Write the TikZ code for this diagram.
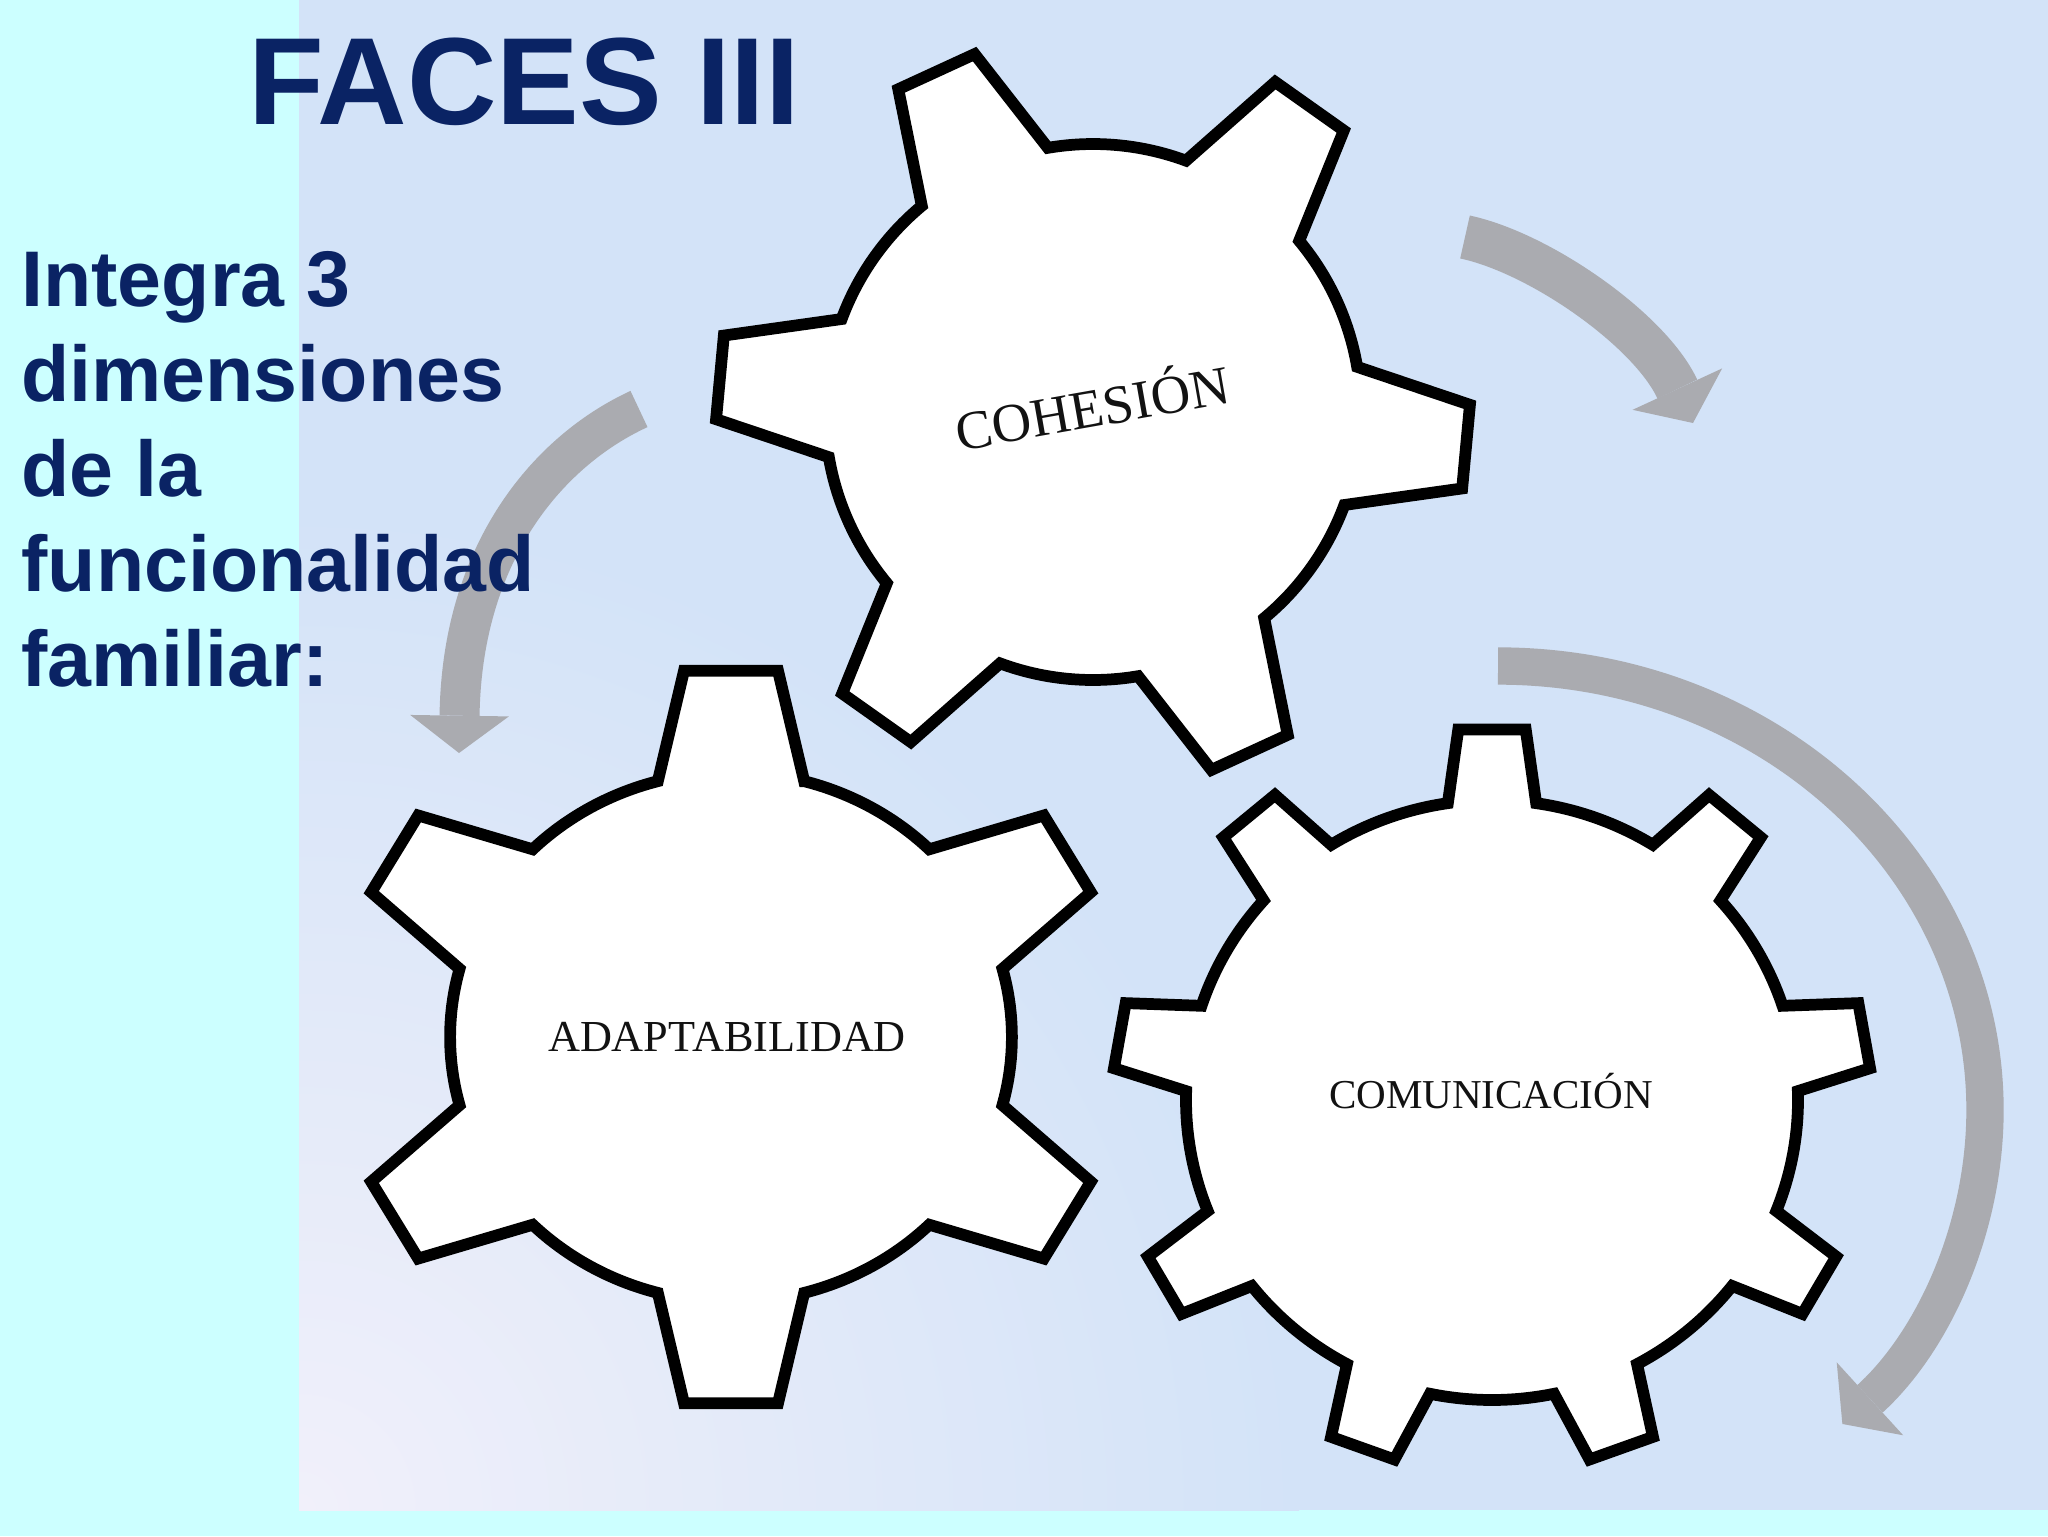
\documentclass[tikz,border=0pt]{standalone}
\usepackage{fontspec}
\setmainfont{Liberation Serif}
\newfontfamily\slidefont{Liberation Sans}
\usetikzlibrary{arrows.meta}

\definecolor{bgcyan}{RGB}{204,255,255}
\definecolor{panelblue}{RGB}{211,227,248}
\definecolor{panellight}{RGB}{241,240,250}
\definecolor{titleblue}{RGB}{10,35,100}
\definecolor{arrowgray}{RGB}{170,171,176}
\definecolor{labelgray}{RGB}{18,18,18}

\tikzset{
  gear/.style={draw=black, fill=white, line width=4.4pt},
  flow/.style={draw=arrowgray, line width=#1, -{Triangle[width=37pt,length=14pt,line width=0pt]}},
  flow/.default=16pt,
  gearlabel/.style={text=labelgray, inner sep=0pt, anchor=base},
  slidetext/.style={text=titleblue, inner sep=0pt},
}

% #1 centre, #2 xscale, #3 teeth, #4 root radius, #5 tip radius,
% #6 root half angle, #7 tip half angle, #8 first tooth angle
\newcommand{\drawgear}[8]{%
  \begin{scope}[shift={#1},xscale=#2,yscale=-1]
    \draw[gear] ({#8-#6}:#4) \foreach \k in {1,...,#3}{
      -- ({#8+(\k-1)*360/#3-#7}:#5) -- ({#8+(\k-1)*360/#3+#7}:#5)
      -- ({#8+(\k-1)*360/#3+#6}:#4)
      arc[start angle={#8+(\k-1)*360/#3+#6}, end angle={#8+\k*360/#3-#6}, radius=#4]
    } -- cycle;
  \end{scope}}

\begin{document}
\begin{tikzpicture}[x=0.375pt,y=0.375pt,yscale=-1,xscale=1]
\useasboundingbox (0,0) rectangle (2048,1536);

%Background
\fill[bgcyan] (0,0) rectangle (2048,1536);
\fill[panelblue] (299,0) rectangle (2048,1510);
\begin{scope}
  \clip (299,0) rectangle (2048,1510);
  \shade[inner color=panellight, outer color=panelblue] (299,1510) circle (1000);
\end{scope}

%Curved Arrows
\coordinate (a1s) at (1465,237);
\coordinate (a1e) at (1693,423);
\draw[flow=16.5pt] (a1s) .. controls (1540,253) and (1650,330) .. (a1e);
\coordinate (a2s) at (639,409);
\coordinate (a2e) at (459,753);
\draw[flow=15pt] (a2s) .. controls (550,450) and (462,550) .. (a2e);
\coordinate (a3s) at (1498,666);
\draw[flow=14pt] (a3s) arc[start angle=-90, end angle=45, x radius=487, y radius=444];

%Gears
\drawgear{(1093,412)}{1}{6}{268}{377}{15}{6.4}{-5.3}
\drawgear{(731,1037)}{1.06}{6}{265}{369}{15.1}{6.9}{90}
\drawgear{(1492,1100)}{1.02}{9}{300}{372}{8.3}{5.1}{90}

% Text Node
\node (cohesion) [gearlabel, rotate=10, font=\fontsize{20.5pt}{24pt}\selectfont] at (1096,427) {COHESIÓN};
% Text Node
\node (adapt) [gearlabel, font=\fontsize{16.6pt}{20pt}\selectfont] at (727,1051) {ADAPTABILIDAD};
% Text Node
\node (comunic) [gearlabel, font=\fontsize{15.4pt}{18pt}\selectfont] at (1491,1108) {COMUNICACIÓN};

% Text Node
\node (title) [slidetext, anchor=base west, font=\slidefont\bfseries\fontsize{46.5pt}{50pt}\selectfont] at (248,124) {FACES III};
% Text Node
\node (intro) [slidetext, anchor=north west, align=left, font=\slidefont\bfseries\fontsize{29.6pt}{35.6pt}\selectfont] at (21,251) {Integra 3\\dimensiones\\de la\\funcionalidad\\familiar:};

\end{tikzpicture}
\end{document}
